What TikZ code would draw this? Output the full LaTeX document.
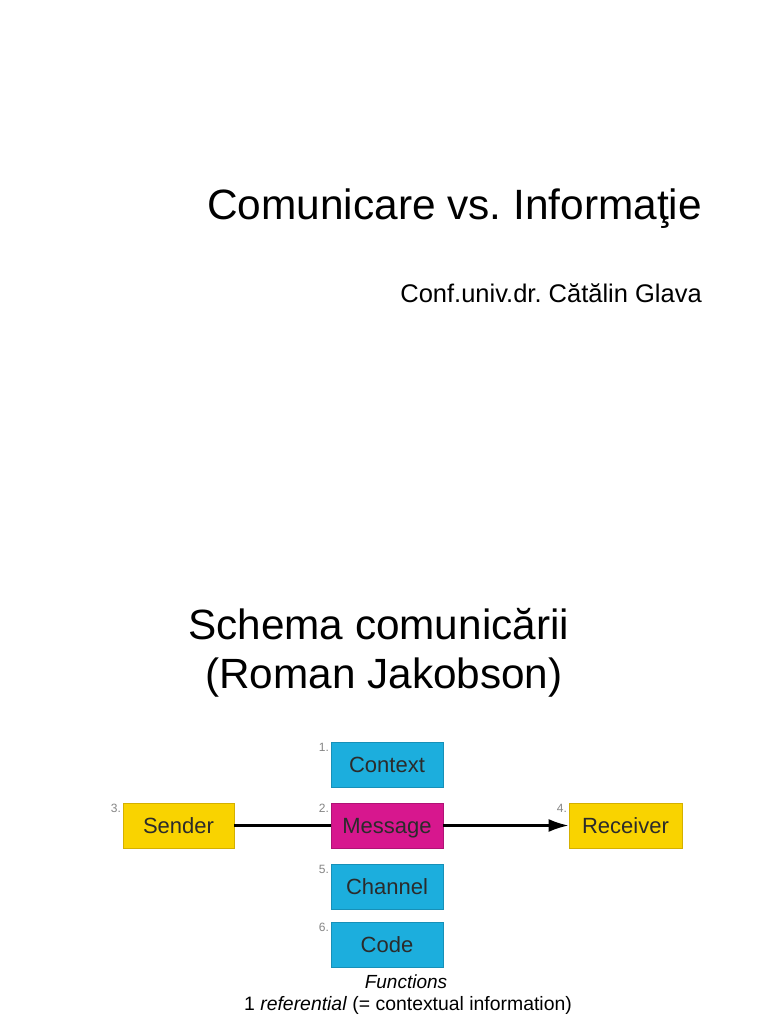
\documentclass[tikz,border=0pt]{standalone}
\usepackage{fontspec}
\setmainfont{Liberation Sans}
\usetikzlibrary{arrows.meta}
\frenchspacing
\definecolor{cyanbox}{HTML}{1CAEDD}
\definecolor{cyanedge}{HTML}{1790B8}
\definecolor{magbox}{HTML}{D7178E}
\definecolor{magedge}{HTML}{B01275}
\definecolor{yelbox}{HTML}{F9D300}
\definecolor{yeledge}{HTML}{D4B000}
\definecolor{boxtext}{HTML}{2B2B2B}
\definecolor{numgray}{HTML}{858585}
\tikzset{
  box/.style={draw, line width=0.8pt, minimum width=112pt, minimum height=45pt, inner sep=0pt,
    text height=15.8pt, text depth=0pt,
    text=boxtext, font=\fontsize{22}{26}\selectfont},
  cyanb/.style={box, fill=cyanbox, draw=cyanedge},
  magb/.style={box, fill=magbox, draw=magedge},
  yelb/.style={box, fill=yelbox, draw=yeledge},
  num/.style={text=numgray, font=\fontsize{12}{13}\selectfont, inner sep=0pt, anchor=north east},
  conn/.style={line width=2.4pt, draw=black}
}
\begin{document}
\begin{tikzpicture}[x=1pt,y=-1pt]
\useasboundingbox[fill=white] (0,0) rectangle (768,1024);
% titles
\node[anchor=base west, inner sep=0pt, font=\fontsize{42.4}{50}\selectfont] (title) at (207,219) {Comunicare vs. Informaţie};
\node[anchor=base east, inner sep=0pt, font=\fontsize{25.5}{30}\selectfont] (author) at (702,302) {Conf.univ.dr. Cătălin Glava};
\node[anchor=base west, inner sep=0pt, font=\fontsize{42.3}{50}\selectfont] (schema1) at (188,639) {Schema comunicării};
\node[anchor=base west, inner sep=0pt, font=\fontsize{42.3}{50}\selectfont] (schema2) at (205,688) {(Roman Jakobson)};
% boxes
\node[cyanb] (context) at (387,764.5) {Context};
\node[magb] (message) at (387,825.5) {Message};
\node[cyanb] (channel) at (387,886.5) {Channel};
\node[cyanb] (code) at (387,945) {Code};
\node[yelb, minimum width=111pt] (sender) at (178.5,825.5) {Sender};
\node[yelb, minimum width=113pt] (receiver) at (625.5,825.5) {Receiver};
% numbers
\node[num] (n1) at ([shift={(-1.5,1)}]context.north west) {1.};
\node[num] (n2) at ([shift={(-1.5,1)}]message.north west) {2.};
\node[num] (n3) at ([shift={(-1.5,1)}]sender.north west) {3.};
\node[num] (n4) at ([shift={(-1.5,1)}]receiver.north west) {4.};
\node[num] (n5) at ([shift={(-1.5,1)}]channel.north west) {5.};
\node[num] (n6) at ([shift={(-1.5,1)}]code.north west) {6.};
% connectors
\draw[conn] (sender) -- (message);
\draw[conn, -{Latex[length=20pt,width=13pt]}] (message) -- (receiver);
% functions
\node[anchor=base, inner sep=0pt, font=\fontsize{19}{22}\selectfont\itshape] (func) at (406,988) {Functions};
\node[anchor=base, inner sep=0pt, font=\fontsize{19.4}{22}\selectfont] (f1) at (408,1010) {1 \textit{referential} (= contextual information)};
\end{tikzpicture}
\end{document}
